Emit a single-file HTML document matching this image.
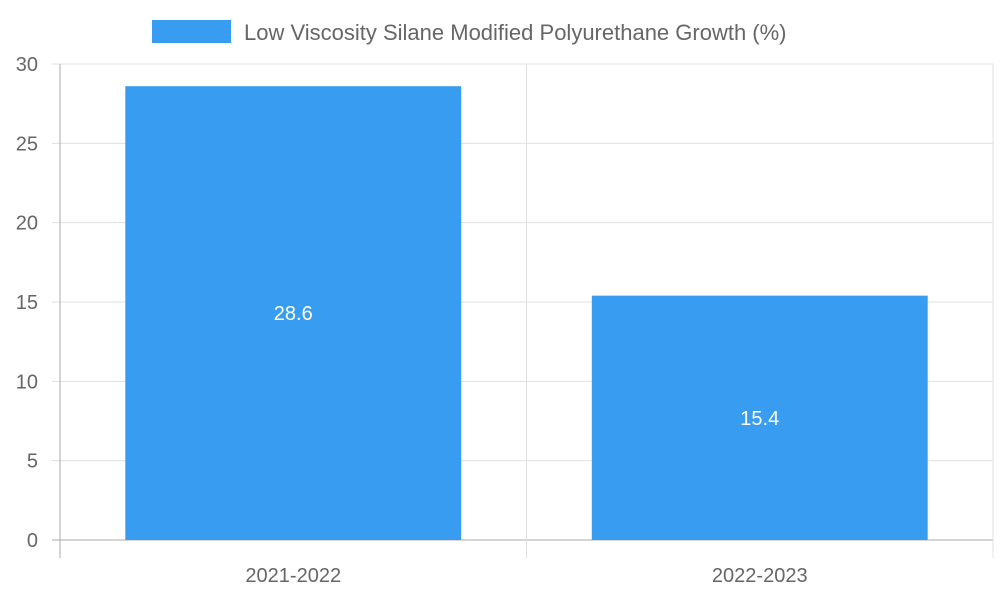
<!DOCTYPE html>
<html><head><meta charset="utf-8"><style>
body{margin:0;background:#fff;}
svg{display:block;font-family:"Liberation Sans",sans-serif;}
</style></head><body>
<svg id="chart" width="1000" height="600">
<g id="legend">
<rect x="152" y="20" width="79" height="23" fill="#389cf0"></rect>
<text x="244" y="40" font-size="22" fill="#666">Low Viscosity Silane Modified Polyurethane Growth (%)</text>
</g>
<g id="grid"></g><g id="bars"></g><g id="labels"></g>
</svg>
<script>
const categories=["2021-2022","2022-2023"];
const values=[28.6,15.4];
const yTicks=[0,5,10,15,20,25,30];
const NS="http://www.w3.org/2000/svg";
const L=60,R=993,T=64,B=540,yMax=30;
const y=v=>B-(v/yMax)*(B-T);
const bw=(R-L)/categories.length;
const x=i=>L+bw*i;
function mk(tag,attrs,parent){const e=document.createElementNS(NS,tag);for(const k in attrs)e.setAttribute(k,attrs[k]);parent.appendChild(e);return e;}
const grid=document.getElementById('grid'),bars=document.getElementById('bars'),labels=document.getElementById('labels');
yTicks.forEach(t=>{
 const ln=mk('line',{x1:52,x2:R,y1:y(t),y2:y(t),stroke:t===0?'#aaa':'#e0e0e0','stroke-width':1},grid);
 
 
 const tx=mk('text',{x:38,y:y(t)+7,'font-size':20,fill:'#666','text-anchor':'end'},labels);
 tx.textContent=t;
 
 
});
for(let i=0;i<=categories.length;i++){
 const ln=mk('line',{x1:x(i),x2:x(i),y1:T,y2:558,stroke:i===0?'#aaa':'#e0e0e0','stroke-width':1},grid);
 
 
}
categories.forEach((c,i)=>{
 const w=bw*0.72,bx=x(i)+(bw-w)/2;
 const r=mk('rect',{x:bx,y:y(values[i]),width:w,height:B-y(values[i]),fill:'#389cf0'},bars);
 
 
 const v=mk('text',{x:x(i)+bw/2,y:(y(values[i])+B)/2+7,'font-size':20,fill:'#fff','text-anchor':'middle'},labels);
 v.textContent=values[i];
 
 
 const cl=mk('text',{x:x(i)+bw/2,y:582,'font-size':20,fill:'#666','text-anchor':'middle'},labels);
 cl.textContent=c;
 
 
});
</script>
</body></html>
